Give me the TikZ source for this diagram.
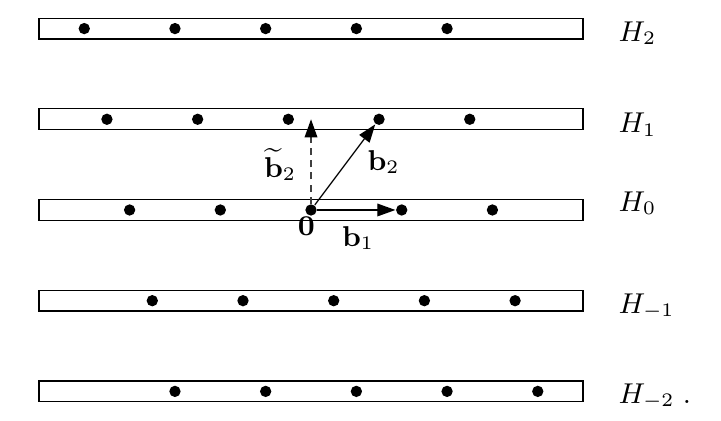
\documentclass[tikz,border=0pt]{standalone}
\usetikzlibrary{arrows.meta}
\begin{document}
\begin{tikzpicture}[x=1cm,y=1cm,
  strip/.style={draw, line width=0.4pt, minimum width=6cm, minimum height=0.23cm, inner sep=0pt, anchor=center},
  pt/.style={circle, fill, inner sep=0pt, minimum size=0.125cm},
  vec/.style={-{Triangle[length=0.2cm,width=0.14cm,color=black]}, line width=0.4pt},
  hlab/.style={anchor=base west, font=\fontsize{9}{11}\selectfont, inner sep=0pt},
  vlab/.style={font=\fontsize{8.6}{10}\selectfont, inner sep=0pt}]
\useasboundingbox (-3.429,-2.326) rectangle (4.520,2.315);
\foreach \k/\nm in {2/p2,1/p1,0/z,-1/m1,-2/m2}{
  \node[strip] (s\nm) at (0,\k) {};
}
\foreach \k/\nm in {2/p2,1/p1,0/z,-1/m1,-2/m2}{
  \foreach \i/\j in {-2/a,-1/b,0/c,1/d,2/e}{
    \node[pt] (\nm\j) at ({\i-\k/4},\k) {};
  }
}
\coordinate (t) at (0,1);
\draw[vec] (zc) -- (zd);
\draw[vec] (zc) -- (p1d);
\draw[vec, dash pattern=on 2.2pt off 1.6pt, draw=black!75] (zc) -- (t);
\node[vlab] (l0) at (-0.05,-0.18) {$\mathbf{0}$};
\node[vlab] (l1) at (0.52,-0.31) {$\mathbf{b}_1$};
\node[vlab] (l2) at (0.8,0.53) {$\mathbf{b}_2$};
\node[vlab] (l3) at (-0.34,0.5) {$\widetilde{\mathbf{b}}_2$};
\node[hlab] (h2) at (3.385,1.856) {$H_2$};
\node[hlab] (h1) at (3.385,0.85) {$H_1$};
\node[hlab] (h0) at (3.385,-0.02) {$H_0$};
\node[hlab] (hm1) at (3.385,-1.136) {$H_{-1}$};
\node[hlab] (hm2) at (3.385,-2.13) {$H_{-2}\;.$};
\end{tikzpicture}
\end{document}
